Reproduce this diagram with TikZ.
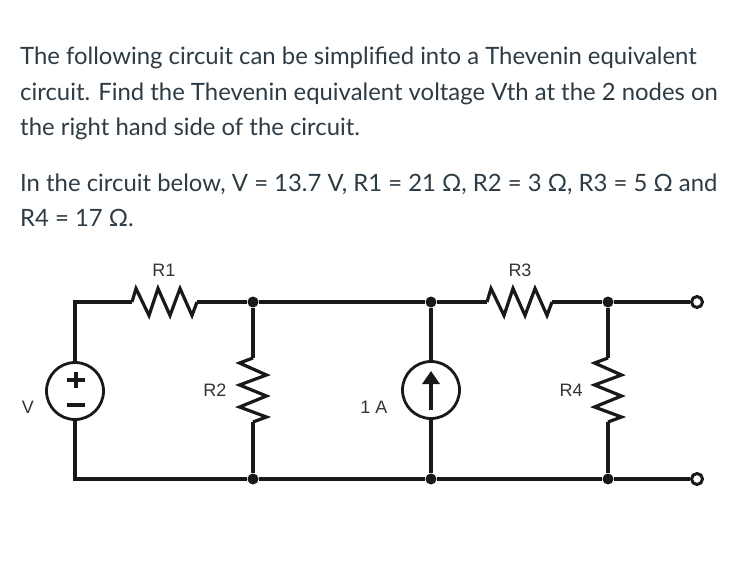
\documentclass[tikz,border=0pt]{standalone}
\usepackage{fontspec}
\setmainfont{Lato}
\newfontfamily\labelfont{Liberation Sans}
\usetikzlibrary{arrows.meta}
\definecolor{bodytext}{HTML}{2D3B45}
\definecolor{labeltext}{HTML}{333333}
% zigzags between two named points
\def\hzig(#1,#2){\draw[wire] (#1, #2) -- ++(4, -13.5) -- ++(13, 27) -- ++(9, -27) -- ++(12, 27) -- ++(10, -27) -- ++(12, 27) -- ++(5, -13.5);}
\def\vzig(#1,#2){\draw[wire] (#1, #2) -- ++(-13.5, 5) -- ++(27, 12) -- ++(-27, 10) -- ++(27, 11) -- ++(-27, 11) -- ++(27, 10) -- ++(-13.5, 5);}
\tikzset{
	wire/.style={line width=3.2pt, line join=miter, black!90},
	dot/.style={circle, fill=black!90, inner sep=0pt, minimum size=11pt},
	term/.style={circle, draw=black!90, line width=3pt, fill=white, inner sep=0pt, minimum size=11pt},
	source/.style={circle, draw=black!90, line width=2.8pt, fill=white, inner sep=0pt, minimum size=57pt},
	para/.style={anchor=base west, inner sep=0pt, text=bodytext, font=\fontsize{23.88}{28}\selectfont},
	lab/.style={inner sep=0pt, text=labeltext, font=\labelfont\fontsize{18}{20}\selectfont}
}
\begin{document}
\begin{tikzpicture}[x=1pt, y=-1pt]
		\useasboundingbox (0, 0) rectangle (754, 561);
		
		%%%%% TEXT %%%%%
		\node[para] (line1) at (20, 65) {The following circuit can be simplified into a Thevenin equivalent};
		\node[para] (line2) at (20, 101) {circuit. Find the Thevenin equivalent voltage Vth at the 2 nodes on};
		\node[para] (line3) at (20, 136) {the right hand side of the circuit.};
		\node[para] (line4) at (20, 192) {In the circuit below, V = 13.7 V, R1 = 21 Ω, R2 = 3 Ω, R3 = 5 Ω and};
		\node[para] (line5) at (20, 226) {R4 = 17 Ω.};
		
		%%%%% CIRCUIT %%%%%
		\coordinate (tl) at (75, 302);
		\coordinate (bl) at (75, 479);
		\coordinate (r1a) at (132, 302);
		\coordinate (r1b) at (197, 302);
		\coordinate (r3a) at (487, 302);
		\coordinate (r3b) at (552, 302);
		\coordinate (r2a) at (253, 358);
		\coordinate (r2b) at (253, 422);
		\coordinate (r4a) at (608, 358);
		\coordinate (r4b) at (608, 422);
		
		\node[dot] (t2) at (253, 302) {};
		\node[dot] (t3) at (431, 302) {};
		\node[dot] (t4) at (608, 302) {};
		\node[dot] (b2) at (253, 479) {};
		\node[dot] (b3) at (431, 479) {};
		\node[dot] (b4) at (608, 479) {};
		\node[source] (vs) at (75, 391) {};
		\node[source] (is) at (431, 390) {};
		\node[term] (outt) at (697, 302) {};
		\node[term] (outb) at (697, 479) {};
		
		\draw[wire] (vs) -- (tl) -- (r1a);
		\draw[wire] (r1b) -- (t2) -- (t3) -- (r3a);
		\draw[wire] (r3b) -- (t4) -- (outt);
		\draw[wire] (vs) -- (bl) -- (b2) -- (b3) -- (b4) -- (outb);
		\draw[wire] (t2) -- (r2a);
		\draw[wire] (r2b) -- (b2);
		\draw[wire] (t3) -- (is);
		\draw[wire] (is) -- (b3);
		\draw[wire] (t4) -- (r4a);
		\draw[wire] (r4b) -- (b4);
		
		\hzig(132,302)
		\hzig(487,302)
		\vzig(253,358)
		\vzig(608,358)
		
		% plus and minus of the source
		\draw[wire, line width=3.6pt] (67, 380) -- (85, 380);
		\draw[wire, line width=3.6pt] (76, 372) -- (76, 388);
		\draw[wire, line width=3.6pt] (67, 405) -- (85, 405);
		% arrow of the current source
		\draw[wire, -{Triangle[length=13pt, width=17pt]}] (431, 410) -- (431, 371);
		
		\node[lab] (labr1) at (164, 270) {R1};
		\node[lab] (labr2) at (215, 390) {R2};
		\node[lab] (labr3) at (520, 270) {R3};
		\node[lab] (labr4) at (571, 390) {R4};
		\node[lab] (labv) at (28, 407) {V};
		\node[lab] (labi) at (374, 407) {1 A};
	\end{tikzpicture}
\end{document}
